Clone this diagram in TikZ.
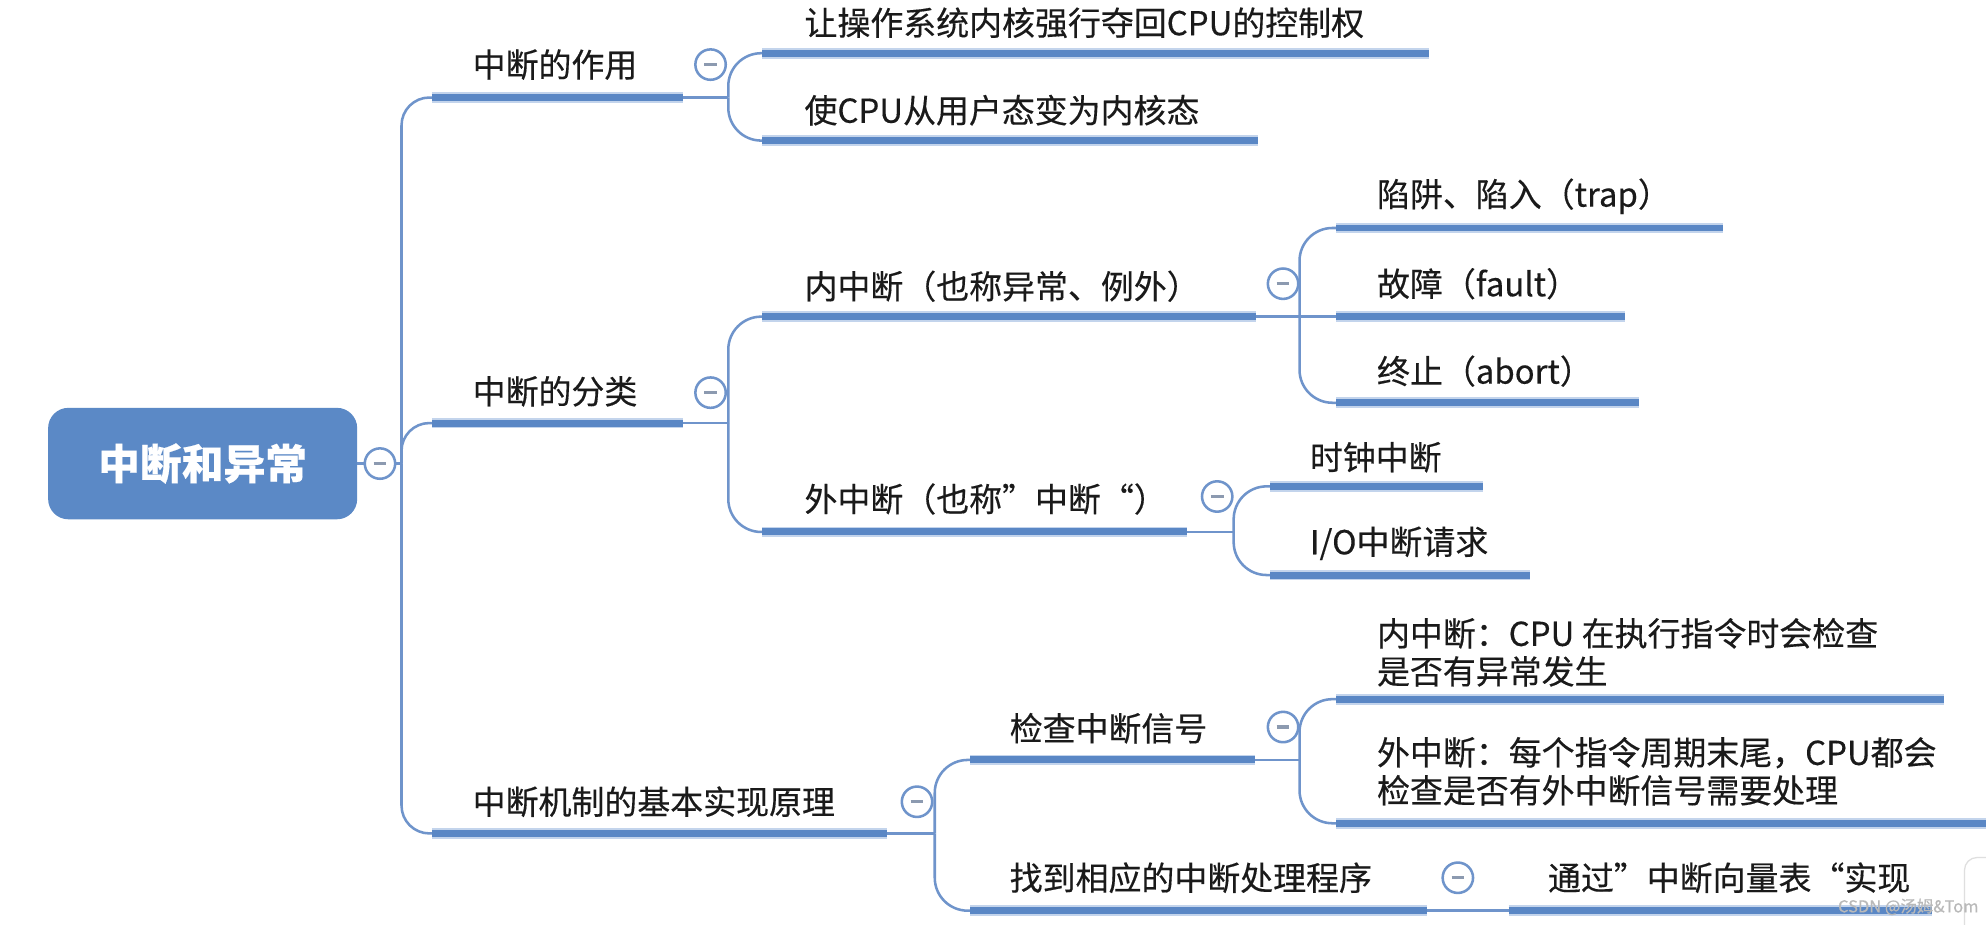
\documentclass[tikz,border=0pt]{standalone}
\usepackage{fontspec}
\setmainfont{Noto Sans CJK SC}[FakeBold=0.35]
\usetikzlibrary{shapes.geometric}
\definecolor{barblue}{HTML}{5A87C5}
\definecolor{halo}{HTML}{C3D4EC}
\definecolor{linkblue}{HTML}{6F94CB}
\definecolor{rootfill}{HTML}{5B89C6}
\definecolor{txt}{HTML}{1A1A1A}
\definecolor{minusgray}{HTML}{8C9AB0}
\tikzset{
  barline/.style={line width=5.5pt, draw=barblue},
  barhalo/.style={line width=8.5pt, draw=halo},
  link/.style={line width=2pt, draw=linkblue, rounded corners=22pt},
  sublink/.style={line width=2pt, draw=linkblue, rounded corners=26pt},
  lbl/.style={anchor=west, inner sep=0pt, font=\fontsize{26}{30}\selectfont, text=txt, align=left},
  tog/.style={circle, draw=linkblue, line width=2pt, fill=white, minimum size=24pt, inner sep=0pt,
    path picture={\draw[minusgray, line width=2.5pt] ([xshift=-5pt]path picture bounding box.center) -- ([xshift=5pt]path picture bounding box.center);}},
  rootbox/.style={rounded corners=16pt, fill=rootfill, minimum width=244pt, minimum height=88pt, text=white, font=\fontsize{33}{36}\selectfont\bfseries, inner sep=0pt},
  wmark/.style={anchor=west, inner sep=0pt, font=\fontsize{13}{15}\selectfont, text=gray!55}
}
\begin{document}
\begin{tikzpicture}[x=1pt,y=-1pt]
\useasboundingbox (0,0) rectangle (1568,730);
\fill[white] (0,0) rectangle (1568,730);

% ---------- coordinates: bar starts / ends, branch points ----------
\coordinate (rb) at (317,366);
% level 1
\coordinate (As) at (341,77);  \coordinate (Ae) at (539,77);  \coordinate (Ab) at (575,77);
\coordinate (Bs) at (341,334); \coordinate (Be) at (539,334); \coordinate (Bb) at (575,334);
\coordinate (Cs) at (341,658); \coordinate (Ce) at (700,658); \coordinate (Cb) at (738,658);
% children of A
\coordinate (A1s) at (602,42);  \coordinate (A1e) at (1128,42);
\coordinate (A2s) at (602,111); \coordinate (A2e) at (993,111);
% children of B
\coordinate (B1s) at (602,250); \coordinate (B1e) at (992,250); \coordinate (B1j) at (1026,250);
\coordinate (B2s) at (602,420); \coordinate (B2e) at (937,420); \coordinate (B2j) at (974,420);
\coordinate (B1as) at (1055,180); \coordinate (B1ae) at (1360,180);
\coordinate (B1bs) at (1055,250); \coordinate (B1be) at (1283,250);
\coordinate (B1cs) at (1055,318); \coordinate (B1ce) at (1294,318);
\coordinate (B2as) at (1003,384); \coordinate (B2ae) at (1171,384);
\coordinate (B2bs) at (1003,454); \coordinate (B2be) at (1208,454);
% children of C
\coordinate (C1s) at (766,600); \coordinate (C1e) at (991,600); \coordinate (C1j) at (1026,600);
\coordinate (C2s) at (766,719); \coordinate (C2e) at (1127,719);
\coordinate (C1as) at (1055,552); \coordinate (C1ae) at (1535,552);
\coordinate (C1bs) at (1055,650); \coordinate (C1be) at (1568,650);
\coordinate (C2as) at (1191,719); \coordinate (C2ae) at (1525,719);

% ---------- root ----------
\node[rootbox] (root) at (160,366) {中断和异常};

% ---------- connectors ----------
\draw[link] (root.east) -- (rb);
\draw[link] (rb) |- (As);
\draw[link] (rb) |- (Bs);
\draw[link] (rb) |- (Cs);

\draw[link] (Ae) -- (Ab);
\draw[sublink] (Ab) |- (A1s);
\draw[sublink] (Ab) |- (A2s);

\draw[link] (Be) -- (Bb);
\draw[sublink] (Bb) |- (B1s);
\draw[sublink] (Bb) |- (B2s);

\draw[link] (B1e) -- (B1j);
\draw[sublink] (B1j) |- (B1as);
\draw[link] (B1j) -- (B1bs);
\draw[sublink] (B1j) |- (B1cs);

\draw[link] (B2e) -- (B2j);
\draw[sublink] (B2j) |- (B2as);
\draw[sublink] (B2j) |- (B2bs);

\draw[link] (Ce) -- (Cb);
\draw[sublink] (Cb) |- (C1s);
\draw[sublink] (Cb) |- (C2s);

\draw[link] (C1e) -- (C1j);
\draw[sublink] (C1j) |- (C1as);
\draw[sublink] (C1j) |- (C1bs);

\draw[link] (C2e) -- (C2as);

% ---------- bars ----------
\foreach \s/\e in {As/Ae,Bs/Be,Cs/Ce,A1s/A1e,A2s/A2e,B1s/B1e,B2s/B2e,B1as/B1ae,B1bs/B1be,B1cs/B1ce,B2as/B2ae,B2bs/B2be,C1s/C1e,C2s/C2e,C1as/C1ae,C1bs/C1be,C2as/C2ae}{
  \draw[barhalo] (\s) -- (\e);
  \draw[barline] (\s) -- (\e);
}

% ---------- toggles ----------
\node[tog] (t0) at (300,366) {};
\node[tog] (tA) at (561,51) {};
\node[tog] (tB) at (561,310) {};
\node[tog] (tC) at (724,633) {};
\node[tog] (tB1) at (1013,224) {};
\node[tog] (tB2) at (961,392) {};
\node[tog] (tC1) at (1013,574) {};
\node[tog] (tC2) at (1151,693) {};

% ---------- labels ----------
\node[lbl] (A) at (373,51) {中断的作用};
\node[lbl] (B) at (373,309) {中断的分类};
\node[lbl] (C) at (373,633) {中断机制的基本实现原理};

\node[lbl] (A1) at (635,18) {让操作系统内核强行夺回CPU的控制权};
\node[lbl] (A2) at (635,87) {使CPU从用户态变为内核态};

\node[lbl] (B1) at (635,226) {内中断（也称异常、例外）};
\node[lbl] (B2) at (635,394) {外中断（也称"中断“）};

\node[lbl] (B1a) at (1087,155) {陷阱、陷入（trap）};
\node[lbl] (B1b) at (1087,224) {故障（fault）};
\node[lbl] (B1c) at (1087,293) {终止（abort）};

\node[lbl] (B2a) at (1034,361) {时钟中断};
\node[lbl] (B2b) at (1034,429) {I/O中断请求};

\node[lbl] (C1) at (797,575) {检查中断信号};
\node[lbl] (C2) at (797,693) {找到相应的中断处理程序};

\node[lbl] (C1a) at (1087,515) {内中断：CPU 在执行指令时会检查\\是否有异常发生};
\node[lbl] (C1b) at (1087,609) {外中断：每个指令周期末尾，CPU都会\\检查是否有外中断信号需要处理};

\node[lbl] (C2a) at (1222,693) {通过"中断向量表“实现};

% edge widget and watermark
\draw[gray!25, line width=1pt, rounded corners=10pt, fill=white] (1551,677) rectangle (1590,760);
\node[wmark] (wm) at (1451,716) {CSDN @汤姆\&Tom};
\end{tikzpicture}
\end{document}
